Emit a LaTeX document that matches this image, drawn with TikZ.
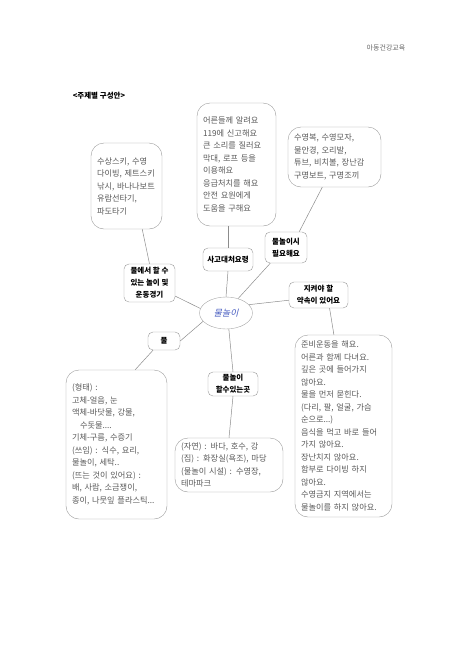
\documentclass[tikz,border=0pt]{standalone}
\usepackage{fontspec}
\newfontfamily\kr{Noto Sans CJK KR}
\newfontfamily\krslant[FakeSlant=0.25]{Noto Sans CJK KR}
\usepackage{xcolor}
\usepackage{tikz}
\usetikzlibrary{
  shapes.geometric
}

\definecolor{themeblue}{HTML}{4A5FC1}

\begin{document}
\begin{tikzpicture}[x=1pt,y=-1pt,
  listbox/.style={
    draw=gray!80, rounded corners=13pt,
    align=left, inner xsep=6pt, inner ysep=2pt,
    text=black!65,
    font=\kr\fontsize{8.2}{12.5}\selectfont
  },
  topic/.style={
    draw=gray!80, rounded corners=5pt,
    align=center, inner sep=1pt,
    font=\kr\bfseries\fontsize{7.5}{12}\selectfont
  },
  link/.style={draw=gray!90, line width=0.5pt}
]
\useasboundingbox (0,0) rectangle (474,670);

% heading
\node [font=\kr\fontsize{7}{8}\selectfont, text=black!60] (header) at (386,48) {아동건강교육};
\node [font=\kr\bfseries\fontsize{7.5}{9}\selectfont] (title) at (99,96) {<주제별 구성안>};

% centre
\node [ellipse, draw=gray!70, line width=0.4pt, minimum width=53pt, minimum height=32pt, inner sep=0pt,
  text=themeblue, font=\krslant\fontsize{9}{10}\selectfont] (theme) at (226,313) {물놀이};

% topics
\node [topic, minimum width=51pt, minimum height=38pt] (play) at (149.5,283) {물에서 할 수\\있는 놀이 및\\운동경기};
\node [topic, minimum width=50pt, minimum height=23pt] (accident) at (228,259.5) {사고대처요령};
\node [topic, minimum width=42pt, minimum height=31pt] (needs) at (286,247.5) {물놀이시\\필요해요};
\node [topic, minimum width=59pt, minimum height=26pt] (rules) at (318.5,295) {지켜야 할\\약속이 있어요};
\node [topic, minimum width=32pt, minimum height=18pt] (water) at (164,341) {물};
\node [topic, minimum width=50pt, minimum height=24pt] (place) at (233,384) {물놀이\\할수있는곳};

% lists
\node [listbox, text width=59pt, minimum height=86pt] (sports) at (126.5,186)
  {수상스키, 수영\\다이빙, 제트스키\\낚시, 바나나보트\\유람선타기,\\파도타기};
\node [listbox, text width=67pt, minimum height=123pt] (help) at (236.5,164.5)
  {어른들께 알려요\\119에 신고해요\\큰 소리를 질러요\\막대, 로프 등을\\이용해요\\응급처치를 해요\\안전 요원에게\\도움을 구해요};
\node [listbox, text width=81pt, minimum height=60pt] (items) at (334.5,157)
  {수영복, 수영모자,\\물안경, 오리발,\\튜브, 비치볼, 장난감\\구명보트, 구명조끼};
\node [listbox, text width=85pt, minimum height=182pt] (promises) at (343.5,426)
  {준비운동을 해요.\\어른과 함께 다녀요.\\깊은 곳에 들어가지\\않아요.\\물을 먼저 묻힌다.\\(다리, 팔, 얼굴, 가슴\\순으로...)\\음식을 먹고 바로 들어\\가지 않아요.\\장난치지 않아요.\\함부로 다이빙 하지\\않아요.\\수영금지 지역에서는\\물놀이를 하지 않아요.};
\node [listbox, text width=89pt, minimum height=149pt] (forms) at (116.5,444.5)
  {(형태) :\\고체-얼음, 눈\\액체-바닷물, 강물,\\\hspace*{8pt}수돗물....\\기체-구름, 수증기\\(쓰임) : 식수, 요리,\\물놀이, 세탁..\\(뜨는 것이 있어요) :\\배, 사람, 소금쟁이,\\종이, 나뭇잎 플라스틱...};
\node [listbox, text width=96pt, minimum height=54pt] (spots) at (229,465)
  {(자연) : 바다, 호수, 강\\(집) : 화장실(욕조), 마당\\(물놀이 시설) : 수영장,\\테마파크};

% connectors
\draw [link] (sports.-70) -- (play.north);
\draw [link] (play.-27) -- (theme.170);
\draw [link] (help.south -| accident.north) -- (accident.north);
\draw [link] (accident.south) -- (theme.north);
\draw [link] (items.-112) -- (needs.50);
\draw [link] (needs.-135) -- (theme.50);
\draw [link] (rules.190) -- (theme.20);
\draw [link] (rules.-50) -- (promises.96);
\draw [link] (water.-140) -- (forms.76);
\draw [link] (water.east) -- (theme.200);
\draw [link] (theme.-80) -- (place.north);
\draw [link] (place.south) -- (spots.north);
\end{tikzpicture}
\end{document}
